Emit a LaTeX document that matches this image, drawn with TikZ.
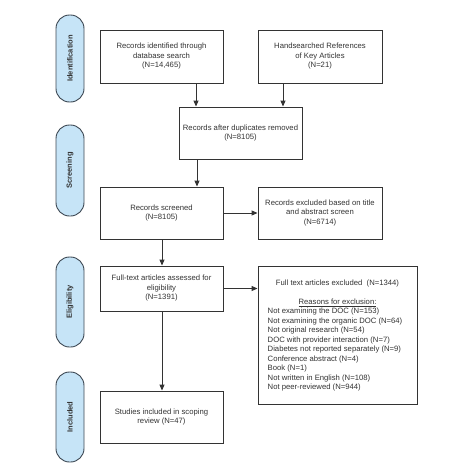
\documentclass[tikz,border=0pt]{standalone}
\usepackage{fontspec}
\setmainfont{Liberation Sans}
\usetikzlibrary{arrows.meta}
\definecolor{pillblue}{HTML}{C6E4F7}
\definecolor{pillline}{HTML}{3F4A55}
\definecolor{boxline}{HTML}{333333}
\begin{document}
\begin{tikzpicture}[x=1pt,y=-1pt,
  txt/.style={font=\fontsize{7.7}{9.5}\selectfont, text=black!80},
  box/.style={draw=boxline, line width=0.9pt, fill=white, align=center, txt, inner sep=0pt},
  pill/.style={draw=pillline, line width=0.9pt, fill=pillblue, rounded corners=13.5pt, minimum height=28pt, rotate=90, font=\bfseries\fontsize{7.5}{9}\selectfont, text=black!80, inner sep=0pt},
  arr/.style={draw=boxline, line width=0.9pt, -{Triangle[length=6pt,width=5pt]}}]
\useasboundingbox (0,0) rectangle (474,474);
\fill[white] (0,0) rectangle (474,474);
% phase pills
\node[pill, minimum width=87pt] (pid) at (70,58.5) {Identification};
\node[pill, minimum width=91pt] (psc) at (70,170.5) {Screening};
\node[pill, minimum width=90pt] (pel) at (70,302) {Eligibility};
\node[pill, minimum width=90pt] (pin) at (70,417) {Included};
% boxes
\node[box, minimum width=123pt, minimum height=53pt] (b1) at (161.5,56.5) {Records identified through\\database search\\(N=14,465)};
\node[box, minimum width=124pt, minimum height=53pt] (b2) at (320,56.5) {Handsearched References\\of Key Articles\\(N=21)};
\node[box, minimum width=123pt, minimum height=52pt] (b3) at (240.5,133) {Records after duplicates removed\\(N=8105)};
\node[box, minimum width=123pt, minimum height=52pt] (b4) at (161.5,213) {Records screened\\(N=8105)};
\node[box, minimum width=124pt, minimum height=52pt] (b5) at (320,213) {Records excluded based on title\\and abstract screen\\(N=6714)};
\node[box, minimum width=123pt, minimum height=45pt] (b6) at (161.5,288.5) {Full-text articles assessed for\\eligibility\\(N=1391)};
\node[box, minimum width=159pt, minimum height=138pt] (b7) at (337.5,335) {};
\node[txt, anchor=north, inner sep=0pt] (b7t) at (337.5,279.8) {Full text articles excluded\ \ (N=1344)};
\node[txt, anchor=north, inner sep=0pt] (b7h) at (337.5,298.8) {\underline{Reasons for exclusion:}};
\node[txt, anchor=north west, align=left, inner sep=0pt] (b7r) at (267.5,308.2) {Not examining the DOC (N=153)\\
Not examining the organic DOC (N=64)\\
Not original research (N=54)\\
DOC with provider interaction (N=7)\\
Diabetes not reported separately (N=9)\\
Conference abstract (N=4)\\
Book (N=1)\\
Not written in English (N=108)\\
Not peer-reviewed (N=944)};
\node[box, minimum width=123pt, minimum height=52pt] (b8) at (161.5,417) {Studies included in scoping\\review (N=47)};
% connectors
\draw[arr] (b1.south -| 196,0) -- (b3.north -| 196,0);
\draw[arr] (b2.south -| 283,0) -- (b3.north -| 283,0);
\draw[arr] (b3.south -| 197,0) -- (b4.north -| 197,0);
\draw[arr] (b4.east) -- (b5.west);
\draw[arr] (b4.south -| 162,0) -- (b6.north -| 162,0);
\draw[arr] (b6.east) -- (b7.west |- b6.east);
\draw[arr] (b6.south -| 162,0) -- (b8.north -| 162,0);
\end{tikzpicture}
\end{document}
